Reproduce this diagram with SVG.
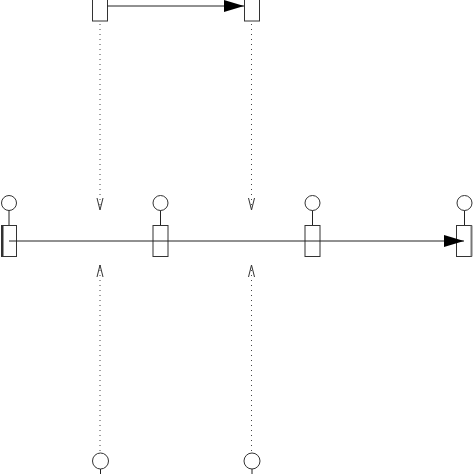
<svg xmlns="http://www.w3.org/2000/svg" width="474" height="474" viewBox="0 0 474 474">
<defs>
<style>
.box{fill:#fff;stroke:#333;stroke-width:1}
.ln{fill:none;stroke:#222;stroke-width:1}
.dot{fill:none;stroke:#444;stroke-width:1;stroke-dasharray:1 4}
.open{fill:none;stroke:#333;stroke-width:1}
</style>
<marker id="solid" markerWidth="20" markerHeight="12" refX="20" refY="6" orient="auto" markerUnits="userSpaceOnUse">
<path d="M0,0 L20,6 L0,12 Z" fill="#000"/>
</marker>
</defs>
<rect width="474" height="474" fill="#fff"/>
<g id="top-left"><rect class="box" x="92.5" y="-2" width="15" height="23"/></g>
<g id="top-right"><rect class="box" x="244.5" y="-2" width="15" height="23"/></g>
<g id="node1">
<circle class="box" cx="9" cy="203" r="7.5"/>
<line class="ln" x1="9" y1="210.5" x2="9" y2="225.5"/>
<rect class="box" x="1.5" y="225.5" width="15" height="31"/>
<line x1="2.5" y1="225.5" x2="2.5" y2="256.5" stroke="#333" stroke-width="2"/>
</g>
<g id="node2">
<circle class="box" cx="160.5" cy="203" r="7.5"/>
<line class="ln" x1="160.5" y1="210.5" x2="160.5" y2="225.5"/>
<rect class="box" x="153" y="225.5" width="15" height="31"/>
</g>
<g id="node3">
<circle class="box" cx="312.5" cy="203" r="7.5"/>
<line class="ln" x1="312.5" y1="210.5" x2="312.5" y2="225.5"/>
<rect class="box" x="305" y="225.5" width="15" height="31"/>
</g>
<g id="node4">
<circle class="box" cx="464.5" cy="203" r="7.5"/>
<line class="ln" x1="464.5" y1="210.5" x2="464.5" y2="225.5"/>
<rect class="box" x="456.5" y="225.5" width="15" height="31"/>
<line x1="471.5" y1="225.5" x2="471.5" y2="256.5" stroke="#777" stroke-width="2"/>
</g>
<g id="bottom-left">
<circle class="box" cx="100.5" cy="461" r="8"/>
<line class="ln" x1="100.5" y1="469" x2="100.5" y2="474"/>
</g>
<g id="bottom-right">
<circle class="box" cx="252" cy="461" r="8"/>
<line class="ln" x1="252" y1="469" x2="252" y2="474"/>
</g>
<g id="connectors">
<line class="ln" x1="107" y1="6" x2="244" y2="6" marker-end="url(#solid)"/>
<line class="ln" x1="9" y1="241" x2="464" y2="241" marker-end="url(#solid)"/>
<line class="dot" x1="100" y1="24" x2="100" y2="209"/>
<path class="open" d="M97,198 L100,210 L103,198"/>
<line class="dot" x1="251.5" y1="24" x2="251.5" y2="209"/>
<path class="open" d="M248.5,198 L251.5,210 L254.5,198"/>
<line class="dot" x1="100" y1="265" x2="100" y2="452"/>
<path class="open" d="M97,277 L100,265 L103,277"/>
<line class="dot" x1="251.5" y1="265" x2="251.5" y2="452"/>
<path class="open" d="M248.5,277 L251.5,265 L254.5,277"/>
</g>
</svg>
